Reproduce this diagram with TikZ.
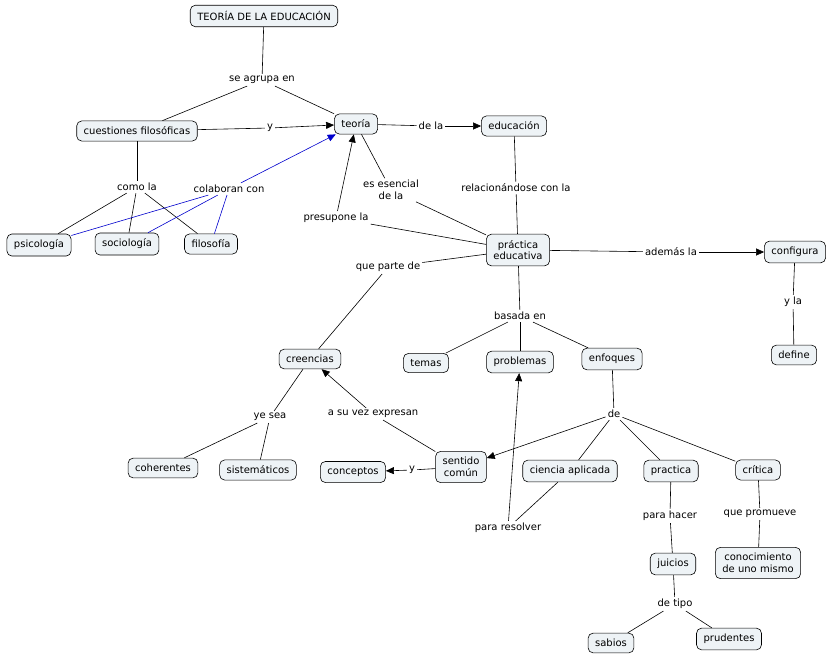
\documentclass[tikz,border=0pt]{standalone}
\usepackage{fontspec}
\setmainfont{DejaVu Sans}
\usetikzlibrary{arrows.meta}
\definecolor{cfill}{HTML}{EEF3F6}
\begin{document}
\begin{tikzpicture}[x=1pt,y=-1pt,
  c/.style={draw=black,fill=cfill,rounded corners=5pt,font=\fontsize{10}{11.5}\selectfont,inner xsep=7pt,inner ysep=6pt,align=center,line width=0.6pt},
  l/.style={font=\fontsize{10}{11.5}\selectfont,inner sep=2pt,align=center},
  ln/.style={line width=0.6pt},
  ar/.style={line width=0.6pt,-{Triangle[length=8pt,width=7pt]}},
  bl/.style={line width=0.6pt,draw=blue!80!black},
  bar/.style={bl,-{Triangle[length=8pt,width=7pt]}}]
\useasboundingbox (0,0) rectangle (833,659);
% concepts
\node[c] (TE) at (264,16) {TEORÍA DE LA EDUCACIÓN};
\node[c] (cf) at (137,131) {cuestiones filosóficas};
\node[c] (te) at (356,124) {teoría};
\node[c] (ed) at (514,126) {educación};
\node[c] (pe) at (518,250) {práctica\\educativa};
\node[c] (co) at (795,252) {configura};
\node[c] (def) at (794,355) {define};
\node[c] (psi) at (39,245) {psicología};
\node[c] (soc) at (127,244) {sociología};
\node[c] (fil) at (211,244) {filosofía};
\node[c] (cr) at (310,359) {creencias};
\node[c] (tem) at (426,363) {temas};
\node[c] (pro) at (520,362) {problemas};
\node[c] (enf) at (612,359) {enfoques};
\node[c] (coh) at (163,468) {coherentes};
\node[c] (sis) at (258,470) {sistemáticos};
\node[c] (con) at (353,472) {conceptos};
\node[c] (sc) at (461,467) {sentido\\común};
\node[c] (ca) at (570,471) {ciencia aplicada};
\node[c] (pr) at (671,471) {practica};
\node[c] (cri) at (758,470) {crítica};
\node[c] (cum) at (758,563) {conocimiento\\de uno mismo};
\node[c] (ju) at (673,564) {juicios};
\node[c] (sa) at (611,643) {sabios};
\node[c] (pru) at (729,639) {prudentes};
% linking phrases
\node[l] (sa1) at (262,80) {se agrupa en};
\node[l] (y1) at (270,128) {y};
\node[l] (dl) at (431,126) {de la};
\node[l] (ee) at (391,190) {es esencial\\de la};
\node[l] (rel) at (516,188) {relacionándose con la};
\node[l] (pl) at (336,218) {presupone la};
\node[l] (al) at (671,252) {además la};
\node[l] (yl) at (793,302) {y la};
\node[l] (cl) at (137,187) {como la};
\node[l] (cc) at (229,189) {colaboran con};
\node[l] (qp) at (388,267) {que parte de};
\node[l] (be) at (520,316) {basada en};
\node[l] (ys) at (270,417) {ye sea};
\node[l] (av) at (373,414) {a su vez expresan};
\node[l] (de) at (614,414) {de};
\node[l] (y2) at (412,470) {y};
\node[l] (pre) at (508,528) {para resolver};
\node[l] (ph) at (670,516) {para hacer};
\node[l] (qpr) at (760,514) {que promueve};
\node[l] (dt) at (675,604) {de tipo};
% connections
\draw[ln] (TE) -- (sa1); \draw[ln] (sa1) -- (cf); \draw[ln] (sa1) -- (te);
\draw[ln] (cf) -- (y1); \draw[ar] (y1) -- (te);
\draw[ln] (te) -- (dl); \draw[ar] (dl) -- (ed);
\draw[ln] (te) -- (ee); \draw[ln] (ee) -- (pe);
\draw[ln] (ed) -- (rel); \draw[ln] (rel) -- (pe);
\draw[ln] (pe) -- (pl); \draw[ar] (pl) -- (te);
\draw[ln] (pe) -- (al); \draw[ar] (al) -- (co);
\draw[ln] (co) -- (yl); \draw[ln] (yl) -- (def);
\draw[ln] (cf) -- (cl); \draw[ln] (cl) -- (psi); \draw[ln] (cl) -- (soc); \draw[ln] (cl) -- (fil);
\draw[bl] (psi) -- (cc); \draw[bl] (soc) -- (cc); \draw[bl] (fil) -- (cc); \draw[bar] (cc) -- (te);
\draw[ln] (pe) -- (qp); \draw[ln] (qp) -- (cr);
\draw[ln] (pe) -- (be); \draw[ln] (be) -- (tem); \draw[ln] (be) -- (pro); \draw[ln] (be) -- (enf);
\draw[ln] (enf) -- (de); \draw[ar] (de) -- (sc); \draw[ln] (de) -- (ca); \draw[ln] (de) -- (pr); \draw[ln] (de) -- (cri);
\draw[ln] (cr) -- (ys); \draw[ln] (ys) -- (coh); \draw[ln] (ys) -- (sis);
\draw[ln] (sc) -- (av); \draw[ar] (av) -- (cr);
\draw[ln] (sc) -- (y2); \draw[ar] (y2) -- (con);
\draw[ln] (ca) -- (pre); \draw[ar] (pre) -- (pro);
\draw[ln] (pr) -- (ph); \draw[ln] (ph) -- (ju);
\draw[ln] (cri) -- (qpr); \draw[ln] (qpr) -- (cum);
\draw[ln] (ju) -- (dt); \draw[ln] (dt) -- (sa); \draw[ln] (dt) -- (pru);
\end{tikzpicture}
\end{document}
